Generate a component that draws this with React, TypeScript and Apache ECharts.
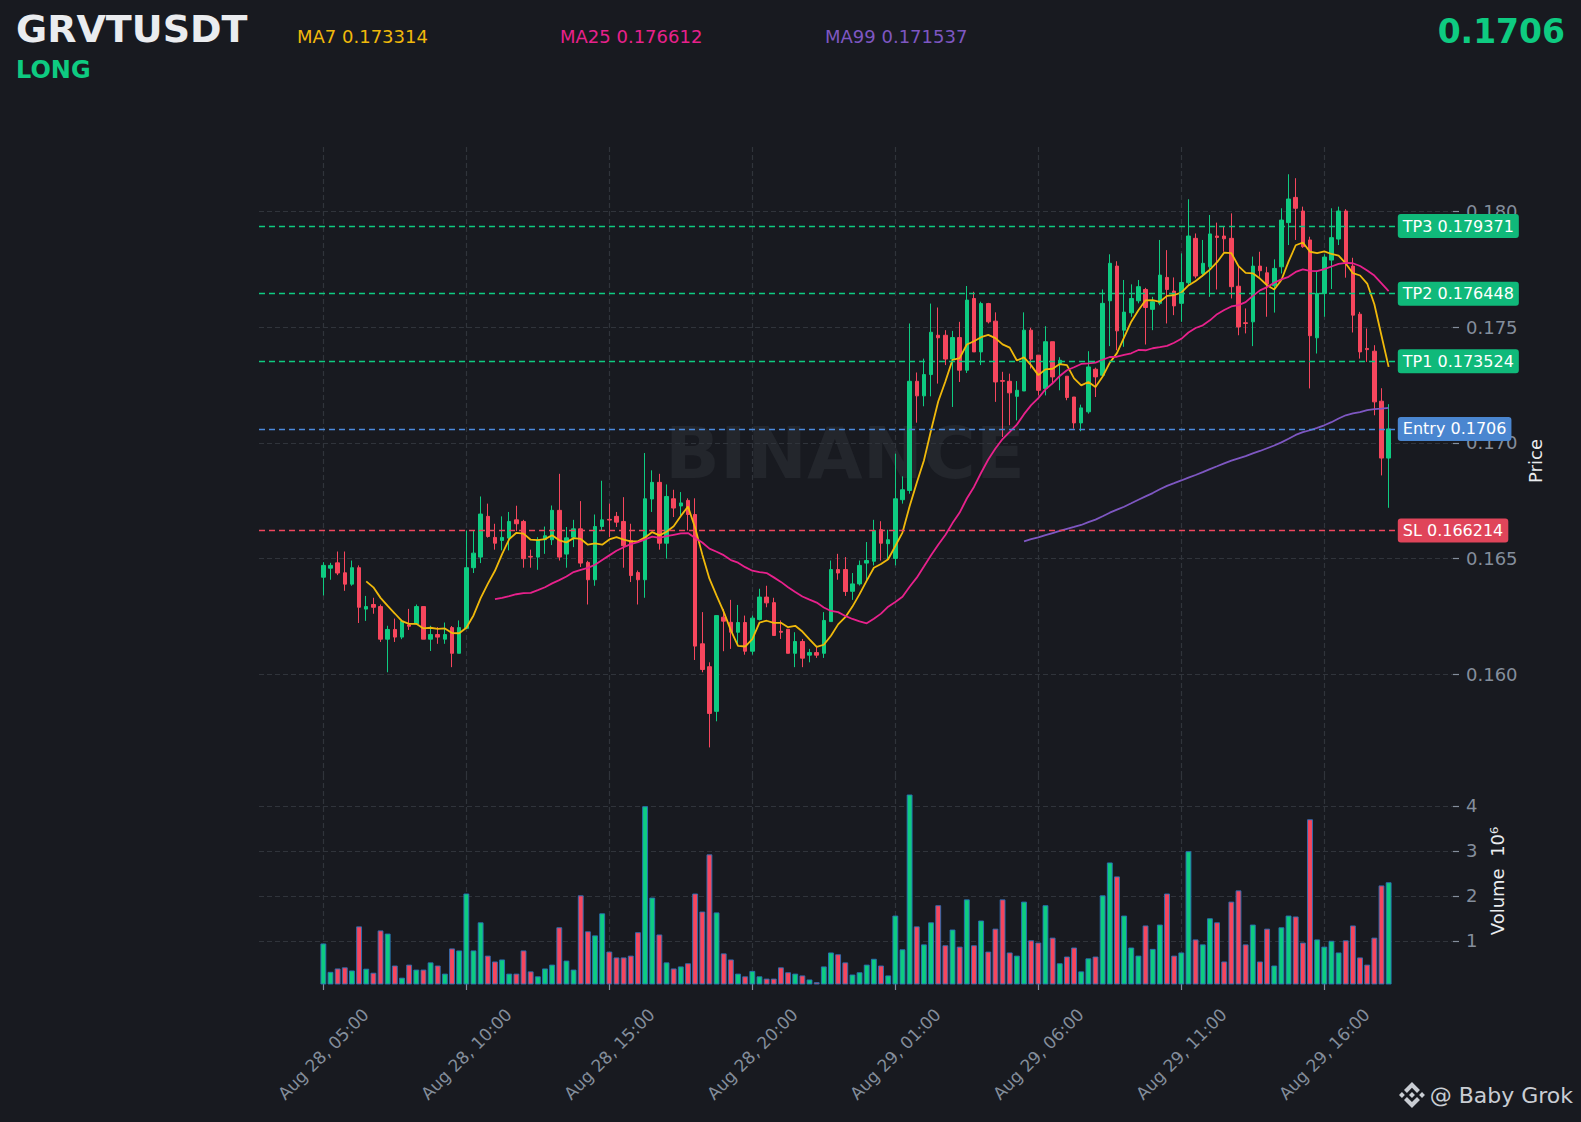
import React, { useEffect, useRef } from "react";
import * as echarts from "echarts";

const BG = "#181a20";
const FONT = "DejaVu Sans";
const UP = "#0ecb81";
const DOWN = "#f6465d";
const AXIS_GREY = "#848e9c";
const GRID_COLOR = "#30343b";
const TEXT_WHITE = "#eaecef";
const MA_COLORS = ["#f0b90b", "#e8218c", "#7e57c2"];

const symbolName = "GRVTUSDT";
const sideLabel = "LONG";
const lastPriceLabel = "0.1706";
const maLabels = ["MA7 0.173314", "MA25 0.176612", "MA99 0.171537"];
const maPeriods = [7, 25, 99];
const watermark = "BINANCE";
const credit = "@ Baby Grok";

const opens = [
  0.16419, 0.16458, 0.16481, 0.16438, 0.16389, 0.1646, 0.16281, 0.16301, 0.16292, 0.16151,
  0.16193, 0.1616, 0.16213, 0.16217, 0.16292, 0.16151, 0.16171, 0.16151, 0.16201, 0.1609,
  0.16198, 0.1646, 0.16506, 0.16682, 0.16591, 0.16578, 0.16588, 0.16667, 0.1666, 0.16509,
  0.16506, 0.16581, 0.16581, 0.16708, 0.16519, 0.16592, 0.16628, 0.16483, 0.16408, 0.16638,
  0.16669, 0.16682, 0.1666, 0.16578, 0.16439, 0.16408, 0.16757, 0.16829, 0.16566, 0.16758,
  0.16727, 0.16751, 0.1669, 0.16131, 0.16032, 0.15839, 0.16246, 0.16224, 0.16181, 0.16223,
  0.16099, 0.16236, 0.16333, 0.16309, 0.16185, 0.16194, 0.1609, 0.16141, 0.16082, 0.16093,
  0.1609, 0.16227, 0.16452, 0.16452, 0.16358, 0.1639, 0.1648, 0.16488, 0.16624, 0.16564,
  0.165, 0.16754, 0.16794, 0.17266, 0.17203, 0.17295, 0.17465, 0.17465, 0.17362, 0.17455,
  0.17314, 0.17624, 0.17393, 0.17602, 0.17526, 0.17269, 0.17266, 0.17201, 0.17224, 0.17487,
  0.17379, 0.17235, 0.17437, 0.17343, 0.17288, 0.17198, 0.17086, 0.17134, 0.17318, 0.17292,
  0.17614, 0.17764, 0.17487, 0.17562, 0.17614, 0.17663, 0.17577, 0.17603, 0.17715, 0.17656,
  0.17603, 0.17692, 0.17884, 0.17732, 0.17761, 0.17894, 0.17894, 0.17884, 0.17677, 0.17519,
  0.17523, 0.17764, 0.17735, 0.17679, 0.17761, 0.17952, 0.18061, 0.18002, 0.17877, 0.17454,
  0.17646, 0.1779, 0.17881, 0.18002, 0.17764, 0.17556, 0.17408, 0.17396, 0.1718, 0.16934,
];

const highs = [
  0.16484, 0.16481, 0.1653, 0.1653, 0.16491, 0.1647, 0.16338, 0.1633, 0.16301, 0.16209,
  0.1624, 0.16235, 0.16282, 0.16301, 0.16292, 0.16209, 0.16203, 0.16223, 0.16208, 0.16232,
  0.16621, 0.16621, 0.16768, 0.16737, 0.1665, 0.16682, 0.16701, 0.16728, 0.16667, 0.16538,
  0.16592, 0.16638, 0.16729, 0.16866, 0.16636, 0.16667, 0.16748, 0.1649, 0.1669, 0.16836,
  0.16737, 0.16701, 0.16765, 0.1665, 0.16448, 0.16956, 0.16881, 0.16866, 0.1682, 0.16797,
  0.16787, 0.1676, 0.1676, 0.16268, 0.16051, 0.16253, 0.16282, 0.16321, 0.16299, 0.16253,
  0.16253, 0.16369, 0.16382, 0.1633, 0.16232, 0.16194, 0.16181, 0.16152, 0.16109, 0.16121,
  0.16268, 0.16491, 0.1652, 0.16506, 0.16437, 0.16491, 0.16571, 0.16667, 0.16661, 0.16624,
  0.16953, 0.16855, 0.17516, 0.17304, 0.17364, 0.17602, 0.17585, 0.17487, 0.17484, 0.17523,
  0.17678, 0.17653, 0.1761, 0.17605, 0.17564, 0.17307, 0.17299, 0.17267, 0.17564, 0.17497,
  0.17379, 0.17504, 0.17437, 0.1737, 0.17288, 0.17198, 0.17165, 0.17396, 0.17325, 0.17663,
  0.17815, 0.17785, 0.17704, 0.17685, 0.17704, 0.1767, 0.17631, 0.17877, 0.17833, 0.17715,
  0.17819, 0.18053, 0.17905, 0.17877, 0.17985, 0.17952, 0.17937, 0.17992, 0.17761, 0.17581,
  0.17805, 0.17826, 0.17761, 0.17793, 0.18014, 0.18161, 0.18144, 0.18021, 0.17891, 0.17742,
  0.17815, 0.18014, 0.18021, 0.1801, 0.178, 0.17566, 0.17494, 0.17422, 0.17236, 0.17167,
];

const lows = [
  0.1634, 0.16408, 0.16428, 0.1636, 0.16382, 0.16221, 0.1623, 0.16261, 0.16139, 0.16008,
  0.16139, 0.16151, 0.16191, 0.16213, 0.16151, 0.161, 0.16131, 0.16131, 0.1603, 0.1609,
  0.16198, 0.16437, 0.1648, 0.1659, 0.16538, 0.16535, 0.16535, 0.16618, 0.1646, 0.1646,
  0.16451, 0.1652, 0.16558, 0.16491, 0.1646, 0.16549, 0.16463, 0.16301, 0.16382, 0.16621,
  0.16592, 0.16636, 0.1646, 0.16398, 0.16301, 0.1633, 0.16701, 0.16538, 0.16499, 0.16679,
  0.16686, 0.16621, 0.16061, 0.16008, 0.15683, 0.15796, 0.16099, 0.16109, 0.16131, 0.16084,
  0.16084, 0.16232, 0.16289, 0.16167, 0.16152, 0.1609, 0.1603, 0.1603, 0.16051, 0.1607,
  0.1607, 0.16227, 0.16408, 0.16338, 0.16321, 0.16383, 0.16405, 0.1647, 0.16491, 0.16494,
  0.1647, 0.16737, 0.1678, 0.17087, 0.17158, 0.17201, 0.17256, 0.17336, 0.17155, 0.17263,
  0.17302, 0.17393, 0.17336, 0.17516, 0.17177, 0.17025, 0.17076, 0.17097, 0.17224, 0.17321,
  0.17205, 0.17205, 0.17256, 0.17227, 0.17184, 0.17061, 0.1705, 0.17126, 0.17198, 0.17285,
  0.17418, 0.174, 0.17415, 0.17545, 0.17603, 0.17425, 0.17487, 0.17595, 0.17516, 0.17552,
  0.17523, 0.1768, 0.17711, 0.17718, 0.17631, 0.17663, 0.17826, 0.17624, 0.17465, 0.17473,
  0.17418, 0.17718, 0.17545, 0.17563, 0.17732, 0.17855, 0.17877, 0.17843, 0.17235, 0.17386,
  0.17545, 0.17665, 0.17855, 0.17714, 0.17477, 0.17364, 0.1735, 0.17119, 0.16859, 0.16719,
];

const closes = [
  0.1647, 0.1647, 0.16437, 0.16389, 0.1646, 0.16289, 0.16292, 0.16289, 0.16151, 0.16193,
  0.1616, 0.16229, 0.16207, 0.16292, 0.16151, 0.16171, 0.1616, 0.16171, 0.1609, 0.16201,
  0.1646, 0.16523, 0.16692, 0.16595, 0.16566, 0.16591, 0.1666, 0.1665, 0.16499, 0.16506,
  0.16581, 0.16598, 0.16708, 0.16506, 0.16589, 0.16628, 0.1648, 0.16408, 0.16638, 0.16667,
  0.16666, 0.16657, 0.16555, 0.16426, 0.16408, 0.16758, 0.16829, 0.16566, 0.16768, 0.16718,
  0.1674, 0.1669, 0.16121, 0.1602, 0.1583, 0.16253, 0.16229, 0.16181, 0.16223, 0.16099,
  0.16242, 0.16333, 0.16308, 0.16167, 0.16181, 0.1609, 0.16141, 0.16069, 0.16093, 0.16082,
  0.16232, 0.16452, 0.16437, 0.16357, 0.1639, 0.1647, 0.16491, 0.16621, 0.16566, 0.16581,
  0.16758, 0.16797, 0.17266, 0.17203, 0.17295, 0.17478, 0.17454, 0.17362, 0.17455, 0.17314,
  0.17617, 0.17393, 0.17602, 0.17523, 0.17263, 0.17266, 0.17216, 0.17227, 0.17487, 0.17362,
  0.17227, 0.17437, 0.17285, 0.17357, 0.17196, 0.17086, 0.17151, 0.17328, 0.17285, 0.17603,
  0.17776, 0.17484, 0.17565, 0.17624, 0.17675, 0.17585, 0.1761, 0.17725, 0.17663, 0.17592,
  0.17693, 0.17894, 0.17721, 0.17776, 0.17903, 0.17888, 0.17882, 0.17675, 0.17501, 0.17516,
  0.17764, 0.17744, 0.17686, 0.17754, 0.17963, 0.18054, 0.18014, 0.17848, 0.17463, 0.17646,
  0.17803, 0.17887, 0.18002, 0.1778, 0.17552, 0.17393, 0.17403, 0.17177, 0.16934, 0.1706,
];

// volume in millions
const volumesM = [
  0.94, 0.31, 0.385, 0.41, 0.34, 1.32, 0.38, 0.29, 1.23, 1.16,
  0.45, 0.18, 0.47, 0.36, 0.36, 0.52, 0.45, 0.27, 0.83, 0.785,
  2.05, 0.785, 1.41, 0.67, 0.54, 0.585, 0.27, 0.27, 0.785, 0.32,
  0.21, 0.385, 0.47, 1.3, 0.56, 0.36, 2.01, 1.21, 1.12, 1.61,
  0.76, 0.63, 0.63, 0.67, 1.19, 3.99, 1.96, 1.14, 0.52, 0.385,
  0.43, 0.5, 2.05, 1.65, 2.92, 1.63, 0.72, 0.585, 0.27, 0.21,
  0.33, 0.21, 0.16, 0.16, 0.41, 0.3, 0.27, 0.23, 0.14, 0.08,
  0.43, 0.74, 0.7, 0.52, 0.25, 0.3, 0.47, 0.6, 0.45, 0.23,
  1.56, 0.81, 4.25, 1.32, 0.92, 1.41, 1.79, 0.9, 1.25, 0.87,
  1.92, 0.9, 1.45, 0.76, 1.27, 1.92, 0.74, 0.67, 1.87, 1.01,
  0.96, 1.79, 1.07, 0.5, 0.65, 0.85, 0.32, 0.61, 0.65, 2.01,
  2.74, 2.43, 1.56, 0.85, 0.67, 1.34, 0.82, 1.36, 2.05, 0.67,
  0.74, 2.99, 1.03, 0.92, 1.5, 1.41, 0.54, 1.87, 2.12, 0.92,
  1.36, 0.54, 1.27, 0.45, 1.3, 1.56, 1.54, 0.96, 3.7, 1.03,
  0.87, 1.0, 0.74, 1.01, 1.34, 0.63, 0.47, 1.07, 2.23, 2.3,
];

const levels = [
  { text: "TP3 0.179371", value: 0.179371, line: "#0ecb81", box: "#10b97a" },
  { text: "TP2 0.176448", value: 0.176448, line: "#0ecb81", box: "#10b97a" },
  { text: "TP1 0.173524", value: 0.173524, line: "#0ecb81", box: "#10b97a" },
  { text: "Entry 0.1706", value: 0.1706, line: "#4a89dc", box: "#4a86d0" },
  { text: "SL 0.166214", value: 0.166214, line: "#f0475e", box: "#e0455a" },
];

const priceTicks = [0.16, 0.165, 0.17, 0.175, 0.18];
const volumeTicks = [1, 2, 3, 4];

// axis layout: 15-minute candles, empty slots before and after
const LEAD = 9;
const TRAIL = 9;
const STEP_MIN = 15;
const FIRST_CANDLE_MIN = 5 * 60; // Aug 28, 05:00
const LABEL_EVERY = 20;
const COUNT = closes.length;
const N = LEAD + COUNT + TRAIL;

const pad2 = (n: number) => String(n).padStart(2, "0");
const categories = Array.from({ length: N }, (_, k) => {
  const t = FIRST_CANDLE_MIN + (k - LEAD) * STEP_MIN;
  const day = 28 + Math.floor(t / 1440);
  const m = ((t % 1440) + 1440) % 1440;
  return `Aug ${day}, ${pad2(Math.floor(m / 60))}:${pad2(m % 60)}`;
});
const isTick = (k: number) => k >= LEAD && k < LEAD + COUNT && (k - LEAD) % LABEL_EVERY === 0;

const BINANCE_PATH =
  "M38.73 53.2L63.31 28.62L87.9 53.21L102.2 38.91L63.31 0L24.42 38.9Z " +
  "M0 63.31L14.3 49.01L28.6 63.31L14.3 77.61Z " +
  "M38.73 73.41L63.31 98L87.9 73.42L102.2 87.72L63.31 126.61L24.42 87.72Z " +
  "M98 63.31L112.3 49.01L126.6 63.31L112.3 77.61Z " +
  "M77.83 63.3L63.31 48.78L48.8 63.3L63.31 77.81Z";
echarts.graphic.registerShape("binanceLogo", echarts.graphic.extendPath(BINANCE_PATH, {}) as any);

function sma(n: number) {
  return closes.map((_, i) => {
    if (i < n - 1) return "-";
    let s = 0;
    for (let j = i - n + 1; j <= i; j++) s += closes[j];
    return +(s / n).toFixed(6);
  });
}

function padded<T>(arr: T[], empty: any) {
  return [...Array(LEAD).fill(empty), ...arr, ...Array(TRAIL).fill(empty)];
}

function buildOption() {
  const candleData = padded(
    closes.map((c, i) => [opens[i], c, lows[i], highs[i]]),
    ["-", "-", "-", "-"]
  );
  const volData = padded(
    volumesM.map((v, i) => ({
      value: v,
      itemStyle: { color: closes[i] >= opens[i] ? UP : DOWN },
    })),
    "-"
  );
  const gridLine = { color: GRID_COLOR, width: 1.2, type: [5, 3] as any };
  const lineEnd = LEAD + COUNT;

  const maSeries = maPeriods.map((p, idx) => ({
    type: "line",
    name: "MA" + p,
    xAxisIndex: 0,
    yAxisIndex: 0,
    data: padded(sma(p), "-"),
    showSymbol: false,
    symbol: "none",
    smooth: false,
    lineStyle: { color: MA_COLORS[idx], width: 1.8 },
    z: 3,
    silent: true,
  }));

  const baseText = { fontFamily: FONT };

  return {
    animation: false,
    backgroundColor: BG,
    textStyle: { fontFamily: FONT },
    grid: [
      { left: 259, width: 1194, top: 147, height: 628 },
      { left: 259, width: 1194, top: 775, height: 209 },
    ],
    xAxis: [
      {
        type: "category",
        gridIndex: 0,
        data: categories,
        boundaryGap: false,
        axisLine: { show: false },
        axisTick: { show: false },
        axisLabel: { show: false },
        splitLine: { show: true, interval: (i: number) => isTick(i), lineStyle: gridLine },
      },
      {
        type: "category",
        gridIndex: 1,
        data: categories,
        boundaryGap: false,
        axisLine: { show: false },
        axisTick: {
          show: true,
          interval: (i: number) => isTick(i),
          length: 6,
          lineStyle: { color: AXIS_GREY, width: 1.2 },
        },
        axisLabel: {
          interval: (i: number) => isTick(i),
          rotate: 45,
          align: "center",
          verticalAlign: "middle",
          margin: 70,
          color: AXIS_GREY,
          fontSize: 17,
          fontFamily: FONT,
        },
        splitLine: { show: true, interval: (i: number) => isTick(i), lineStyle: gridLine },
      },
    ],
    yAxis: [
      {
        type: "value",
        gridIndex: 0,
        position: "right",
        scale: true,
        min: 0.155638,
        max: 0.182789,
        splitNumber: 5,
        axisLine: { show: false },
        axisTick: {
          show: true,
          length: 6,
          customValues: priceTicks,
          lineStyle: { color: AXIS_GREY, width: 1.2 },
        },
        axisLabel: {
          customValues: priceTicks,
          formatter: (v: number) => v.toFixed(3),
          margin: 13,
          color: AXIS_GREY,
          fontSize: 18,
          fontFamily: FONT,
        },
        splitLine: { show: true, lineStyle: gridLine },
      },
      {
        type: "value",
        gridIndex: 1,
        position: "right",
        min: 0.04,
        max: 4.684,
        splitNumber: 5,
        axisLine: { show: false },
        axisTick: {
          show: true,
          length: 6,
          customValues: volumeTicks,
          lineStyle: { color: AXIS_GREY, width: 1.2 },
        },
        axisLabel: {
          customValues: volumeTicks,
          formatter: (v: number) => String(Math.round(v)),
          margin: 13,
          color: AXIS_GREY,
          fontSize: 18,
          fontFamily: FONT,
        },
        splitLine: { show: true, lineStyle: gridLine },
      },
    ],
    series: [
      {
        type: "candlestick",
        xAxisIndex: 0,
        yAxisIndex: 0,
        data: candleData,
        barWidth: 4,
        silent: true,
        itemStyle: {
          color: UP,
          color0: DOWN,
          borderColor: UP,
          borderColor0: DOWN,
          borderWidth: 1,
        },
        markLine: {
          silent: true,
          symbol: ["none", "none"],
          animation: false,
          data: levels.map((l) => {
            const common = {
              lineStyle: { color: l.line, type: [6, 4], width: 1.4 },
              label: {
                show: true,
                position: "end",
                distance: 2,
                formatter: l.text,
                color: "#ffffff",
                backgroundColor: l.box,
                padding: [4, 5, 4, 5],
                borderRadius: 3,
                fontSize: 16,
                lineHeight: 16,
                fontFamily: FONT,
              },
            };
            return [
              { xAxis: 0, yAxis: l.value, ...common },
              { xAxis: lineEnd, yAxis: l.value, ...common },
            ];
          }),
        },
        z: 2,
      },
      ...maSeries,
      {
        type: "bar",
        xAxisIndex: 1,
        yAxisIndex: 1,
        data: volData,
        barWidth: 5.8,
        silent: true,
        itemStyle: { borderColor: "#2a70b8", borderWidth: 0.9 },
      },
    ],
    graphic: [
      {
        type: "text",
        x: 845,
        y: 453,
        z: -1,
        silent: true,
        style: {
          ...baseText,
          text: watermark,
          fill: "#23262c",
          fontSize: 72,
          fontWeight: "bold",
          align: "center",
          verticalAlign: "middle",
        },
      },
      {
        type: "text",
        x: 16,
        y: 29,
        style: {
          ...baseText,
          text: symbolName,
          fill: TEXT_WHITE,
          fontSize: 38,
          fontWeight: "bold",
          align: "left",
          verticalAlign: "middle",
        },
      },
      {
        type: "text",
        x: 16,
        y: 70,
        style: {
          ...baseText,
          text: sideLabel,
          fill: UP,
          fontSize: 24,
          fontWeight: "bold",
          align: "left",
          verticalAlign: "middle",
        },
      },
      ...maLabels.map((t, i) => ({
        type: "text",
        x: [297, 560, 825][i],
        y: 36,
        style: {
          ...baseText,
          text: t,
          fill: MA_COLORS[i],
          fontSize: 18,
          align: "left",
          verticalAlign: "middle",
        },
      })),
      {
        type: "text",
        x: 1565,
        y: 31,
        style: {
          ...baseText,
          text: lastPriceLabel,
          fill: UP,
          fontSize: 33,
          fontWeight: "bold",
          align: "right",
          verticalAlign: "middle",
        },
      },
      {
        type: "text",
        x: 1535,
        y: 461,
        rotation: Math.PI / 2,
        style: {
          ...baseText,
          text: "Price",
          fill: TEXT_WHITE,
          fontSize: 18,
          align: "center",
          verticalAlign: "middle",
        },
      },
      {
        type: "text",
        x: 1497,
        y: 881,
        rotation: Math.PI / 2,
        style: {
          ...baseText,
          text: "Volume  10\u2076",
          fill: TEXT_WHITE,
          fontSize: 18,
          align: "center",
          verticalAlign: "middle",
        },
      },
      {
        type: "binanceLogo",
        x: 1399,
        y: 1082,
        scaleX: 0.2054,
        scaleY: 0.2054,
        style: { fill: "#c9cdd3" },
      },
      {
        type: "text",
        x: 1573,
        y: 1095,
        style: {
          ...baseText,
          text: credit,
          fill: "#c9cdd3",
          fontSize: 22,
          align: "right",
          verticalAlign: "middle",
        },
      },
    ],
  };
}

export default function App() {
  const ref = useRef<HTMLDivElement>(null);
  useEffect(() => {
    document.body.style.margin = "0";
    document.body.style.background = BG;
    const chart = echarts.init(ref.current as HTMLDivElement, null, { renderer: "svg" });
    chart.setOption(buildOption() as any);
    return () => chart.dispose();
  }, []);
  return <div ref={ref} style={{ width: 1581, height: 1122, background: BG }} />;
}
